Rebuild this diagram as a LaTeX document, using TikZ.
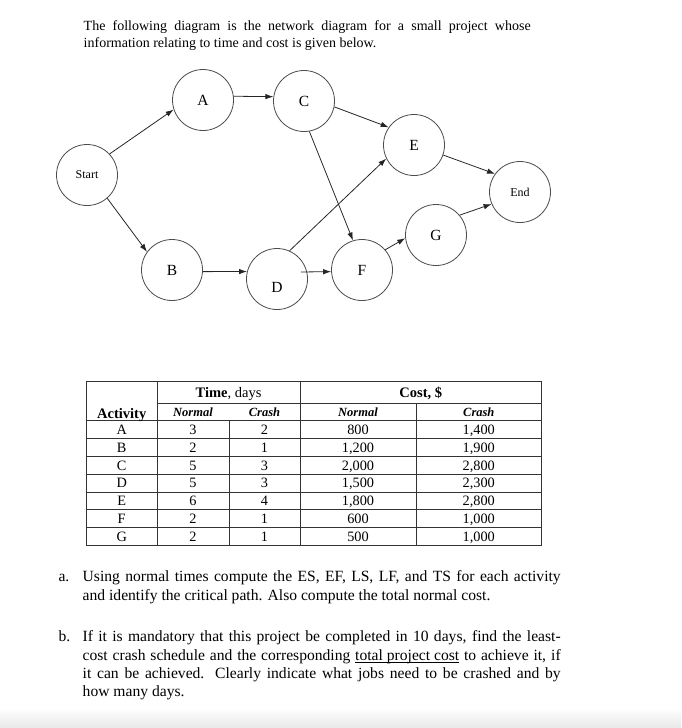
\documentclass[tikz,border=0pt]{standalone}
\usepackage{fontspec}
\setmainfont{Liberation Serif}
\usetikzlibrary{arrows.meta}

\newcommand\undl[1]{\setbox0\hbox{#1}\rlap{\rule[-2.6pt]{\wd0}{0.6pt}}\box0\relax}

\tikzset{
  ev/.style={circle, draw=black!70, line width=0.8pt, minimum size=61pt, inner sep=0pt,
    font=\fontsize{15.5}{17}\selectfont},
  evsmall/.style={ev, font=\fontsize{12}{14}\selectfont},
  link/.style={line width=0.8pt, draw=black!85, -{Latex[length=8pt,width=5.5pt]}},
  para/.style={anchor=base west, inner sep=0pt, align=justify},
  grid/.style={line width=0.6pt, draw=black!80},
  cell/.style={inner sep=0pt, text height=10pt, text depth=0pt,
    font=\fontsize{14.3}{16}\selectfont},
  hcell/.style={cell, text height=8.5pt, font=\fontsize{12.5}{14}\bfseries\itshape\selectfont},
}

\begin{document}
\begin{tikzpicture}[x=1pt, y=-1pt]
    \useasboundingbox (0,0) rectangle (681,728);
    \shade [top color=white, bottom color=black!9] (0,708) rectangle (681,728);
    % Drawing the introduction
    \node [para, text width=447pt, font=\fontsize{14}{17.5}\selectfont] (intro) at (83.5,30)
      {The following diagram is the network diagram for a small project whose\linebreak
       information relating to time and cost is given below.};
    % Drawing the network nodes
    \node [evsmall] (start) at (87,175) {Start};
    \node [ev] (A) at (203,100) {A};
    \node [ev] (C) at (304,101) {C};
    \node [ev] (E) at (414,145) {E};
    \node [evsmall] (end) at (520,192) {End};
    \node [ev] (G) at (436,235) {G};
    \node [ev] (F) at (362,270) {F};
    \node [ev, label={[yshift=-8pt, font=\fontsize{15.5}{17}\selectfont]center:D}] (D) at (277,279) {};
    \node [ev] (B) at (172,270) {B};
    % Drawing the precedence arrows
    \draw [link] (start.43) -- (A.198);
    \draw [link] (start.311) -- (B.144);
    \draw [link] (A.7) -- (C.172);
    \draw [link] (C.349) -- (E.145);
    \draw [link] (C.280) -- (F.107);
    \draw [link] (D.66) -- (E.206);
    \draw [link] (E.341) -- (end.144);
    \draw [link] (G.40) -- (end.203);
    \draw [link] (F.41) -- (G.186);
    \draw [link] (B.357) -- (D.166);
    \draw [link] ([shift={(-7pt,7pt)}]D.east) -- (F.183);
    % Drawing the table grid
    \draw [grid, line width=1pt] (86,381.7) rectangle (541.7,545);
    \draw [grid] (157.3,381.7) -- (157.3,545);
    \draw [grid] (300,381.7) -- (300,545);
    \draw [grid] (229,420.7) -- (229,545);
    \draw [grid] (416,403.3) -- (416,545);
    \draw [grid] (157.3,403.3) -- (541.7,403.3);
    \draw [grid] (86,420.7) -- (541.7,420.7);
    \foreach \y in {438.5,456.2,474,491.8,509.5,527.3}
      \draw [grid] (86,\y) -- (541.7,\y);
    % Drawing the table headings
    \node [cell, font=\fontsize{14.5}{16}\selectfont] (ttime) at (228.5,392.5) {\textbf{Time}, days};
    \node [cell, font=\fontsize{14.5}{16}\bfseries\selectfont] (tcost) at (420.8,392.5) {Cost, \$};
    \node [cell, font=\fontsize{14.5}{16}\bfseries\selectfont] (tact) at (121.7,413.3) {Activity};
    \node [hcell] (tnormal) at (193,412) {Normal};
    \node [hcell] (tcrash) at (264.5,412) {Crash};
    \node [hcell] (cnormal) at (358,412) {Normal};
    \node [hcell] (ccrash) at (478.8,412) {Crash};
    % Drawing the table rows
    \foreach \act/\tn/\tc/\cn/\cc [count=\i] in {A/3/2/800/{1,400}, B/2/1/{1,200}/{1,900},
        C/5/3/{2,000}/{2,800}, D/5/3/{1,500}/{2,300}, E/6/4/{1,800}/{2,800},
        F/2/1/600/{1,000}, G/2/1/500/{1,000}} {
      \node [cell] at (121.7,{420.7+17.76*(\i-0.5)}) {\act};
      \node [cell] at (193,{420.7+17.76*(\i-0.5)}) {\tn};
      \node [cell] at (264.5,{420.7+17.76*(\i-0.5)}) {\tc};
      \node [cell] at (358,{420.7+17.76*(\i-0.5)}) {\cn};
      \node [cell] at (478.8,{420.7+17.76*(\i-0.5)}) {\cc};
    }
    % Drawing the questions
    \node [para, font=\fontsize{15.6}{18.3}\selectfont] (alab) at (58.3,581.7) {a.};
    \node [para, text width=478pt, font=\fontsize{15.6}{18.3}\selectfont] (atext) at (82.5,581.7)
      {Using normal times compute the ES, EF, LS, LF, and TS for each activity\linebreak
       and identify the critical path.  Also compute the total normal cost.};
    \node [para, font=\fontsize{15.6}{18.3}\selectfont] (blab) at (58.3,641.7) {b.};
    \node [para, text width=478pt, font=\fontsize{15.6}{18.3}\selectfont] (btext) at (82.5,641.7)
      {If it is mandatory that this project be completed in 10 days, find the least-\linebreak
       cost crash schedule and the corresponding \undl{total project cost} to achieve it, if\linebreak
       it can be achieved.  Clearly indicate what jobs need to be crashed and by\linebreak
       how many days.};
\end{tikzpicture}
\end{document}
